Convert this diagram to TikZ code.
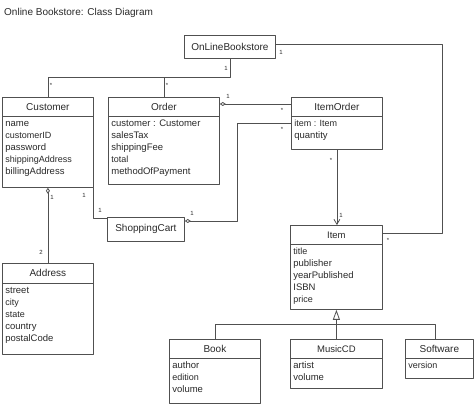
\documentclass[tikz,border=0pt]{standalone}
\usepackage{fontspec}
\setmainfont{Liberation Sans}
\usetikzlibrary{arrows.meta,calc}
\definecolor{umlline}{HTML}{505050}
\definecolor{umltext}{HTML}{2A2A2A}
\newcommand{\nar}{\fontsize{9}{12}\selectfont}
\newcommand{\attbox}[3]{\parbox[c][#2pt][t]{#1pt}{\raggedright\rule{0pt}{10.5pt}#3}}
\begin{document}
\begin{tikzpicture}[x=1pt,y=-1pt,line cap=round,line join=round,
  hdr/.style={draw=umlline,line width=0.8pt,anchor=north west,minimum height=19pt,inner sep=0pt,text=umltext,font=\fontsize{10}{12}\selectfont},
  attrs/.style={draw=umlline,line width=0.8pt,anchor=north west,inner xsep=3pt,inner ysep=0pt,text=umltext,font=\fontsize{9.5}{12}\selectfont},
  mult/.style={inner sep=0pt,text=umltext,font=\fontsize{6}{7}\selectfont},
  conn/.style={draw=umlline,line width=0.8pt},
  agg/.style={{Diamond[open,length=6pt,width=4pt]}-},
  nav/.style={-{Straight Barb[length=5pt,width=6pt]}},
  gen/.style={-{Triangle[open,length=10pt,width=7pt]}}]
\fill[white] (0,0) rectangle (474,411);
\useasboundingbox (0,0) rectangle (474,411);
\node[anchor=west,inner sep=0pt,text=umltext,font=\fontsize{10}{12}\selectfont] (title) at (4,13) {Online Bookstore: Class Diagram};
\node[hdr,minimum width=91pt,minimum height=23pt] (olb) at (184,35) {OnLineBookstore};
\node[hdr,minimum width=91pt] (custh) at (2,97) {Customer};
\node[attrs] (custb) at (2,116) {\attbox{85}{71}{name\\ {\nar customerID}\\ password\\ {\nar shippingAddress}\\ billingAddress}};
\node[hdr,minimum width=111pt] (ordh) at (108,97) {Order};
\node[attrs] (ordb) at (108,116) {\attbox{105}{68}{customer : Customer\\ salesTax\\ shippingFee\\ {\nar total}\\ methodOfPayment}};
\node[hdr,minimum width=91pt] (ioh) at (291,97) {ItemOrder};
\node[attrs] (iob) at (291,116) {\attbox{85}{33}{{\nar item : Item}\\ quantity}};
\node[hdr,minimum width=77pt,minimum height=24pt] (cart) at (107,217) {ShoppingCart};
\node[hdr,minimum width=91pt,minimum height=20pt] (addrh) at (2,263) {Address};
\node[attrs] (addrb) at (2,283) {\attbox{85}{71}{street\\ {\nar city}\\ {\nar state}\\ country\\ postalCode}};
\node[hdr,minimum width=92pt,font=\fontsize{9.5}{12}\selectfont] (itemh) at (290,225) {Item};
\node[attrs] (itemb) at (290,244) {\attbox{86}{65}{{\nar title}\\ publisher\\ yearPublished\\ ISBN\\ {\nar price}}};
\node[hdr,minimum width=91pt] (bookh) at (169,339) {Book};
\node[attrs] (bookb) at (169,358) {\attbox{85}{45}{author\\ {\nar edition}\\ volume}};
\node[hdr,minimum width=92pt,font=\fontsize{9.5}{12}\selectfont] (cdh) at (290,339) {MusicCD};
\node[attrs] (cdb) at (290,358) {\attbox{86}{30}{artist\\ volume}};
\node[hdr,minimum width=68pt] (softh) at (405,339) {Software};
\node[attrs] (softb) at (405,358) {\attbox{62}{20}{{\nar version}}};
\draw[conn] (olb.south) -- ++(0,19) -| (custh.north);
\draw[conn] ($(olb.south)+(0,19)$) -| (ordh.north);
\draw[conn,agg] ($(ordh.north east)+(0,7)$) -- ($(ioh.north west)+(0,7)$);
\draw[conn,agg] ($(cart.north east)+(0,4)$) -| ($(iob.north west)+(-54,7)$) -- ($(iob.north west)+(0,7)$);
\draw[conn] (custb.south east) |- ($(cart.north west)+(0,1)$);
\draw[conn,agg] (custb.south) -- (addrh.north);
\draw[conn,nav] (iob.south) -- (iob.south |- itemh.north);
\draw[conn] ($(olb.north east)+(0,9)$) -- ++(167,0) |- ($(itemh.north east)+(0,8)$);
\coordinate (split) at ($(itemb.south)+(0,15)$);
\draw[conn,gen] (split) -- (itemb.south);
\draw[conn] (bookh.north) |- (split) -| ($(softh.north west)+(30,0)$);
\draw[conn] (cdh.north) -- (split);
\node[mult] (m1) at (226,68) {1};
\node[mult] (m2) at (51,85) {*};
\node[mult] (m3) at (167,85) {*};
\node[mult] (m4) at (281,52) {1};
\node[mult] (m5) at (228,96) {1};
\node[mult] (m6) at (282,110) {*};
\node[mult] (m7) at (282,129) {*};
\node[mult] (m8) at (192,213) {1};
\node[mult] (m9) at (52,197) {1};
\node[mult] (m10) at (84,195) {1};
\node[mult] (m11) at (100,210) {1};
\node[mult] (m12) at (41,252) {2};
\node[mult] (m13) at (331,160) {*};
\node[mult] (m14) at (341,215) {1};
\node[mult] (m15) at (388,240) {*};
\end{tikzpicture}
\end{document}
